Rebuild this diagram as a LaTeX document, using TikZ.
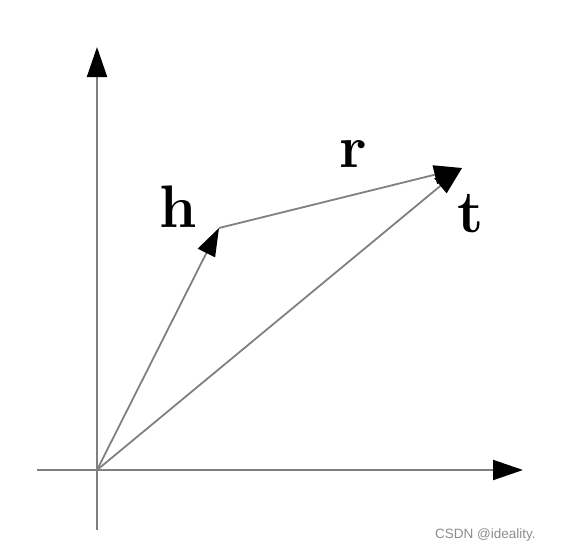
\documentclass[tikz,border=0pt]{standalone}
\usepackage{fontspec}
\newfontfamily\wmfont{Liberation Sans}
\usetikzlibrary{arrows.meta}
\tikzset{
  vec/.style={draw=linegray, line width=1.8pt, -{Triangle[length=28pt,width=19pt,black]}},
  axis/.style={draw=linegray, line width=2pt, -{Triangle[length=30pt,width=20pt,black]}},
  lbl/.style={font=\fontsize{60}{72}\selectfont\bfseries, inner sep=0pt, anchor=base},
}
\definecolor{linegray}{RGB}{128,128,128}
\begin{document}
\begin{tikzpicture}[x=1pt,y=-1pt]
\useasboundingbox (0,0) rectangle (567,549);
\coordinate (O) at (97,470);
\coordinate (Ytop) at (97,47);
\coordinate (Ybot) at (97,530);
\coordinate (Xleft) at (37,470);
\coordinate (Xright) at (523,470);
\coordinate (H) at (219,228);
\coordinate (T) at (462,168);
\draw[axis] (Ybot) -- (Ytop);
\draw[axis] (Xleft) -- (Xright);
\draw[vec] (O) -- (H);
\draw[vec] (O) -- (T);
\draw[vec] (H) -- (T);
\node[lbl] (hl) at (178,227) {h};
\node[lbl] (rl) at (353,167) {r};
\node[lbl] (tl) at (471,232) {t};
\node[font=\wmfont\fontsize{13.5}{16}\selectfont, text=black!45, inner sep=0pt, anchor=base west] (wm) at (435,538) {CSDN @ideality.};
\end{tikzpicture}
\end{document}
